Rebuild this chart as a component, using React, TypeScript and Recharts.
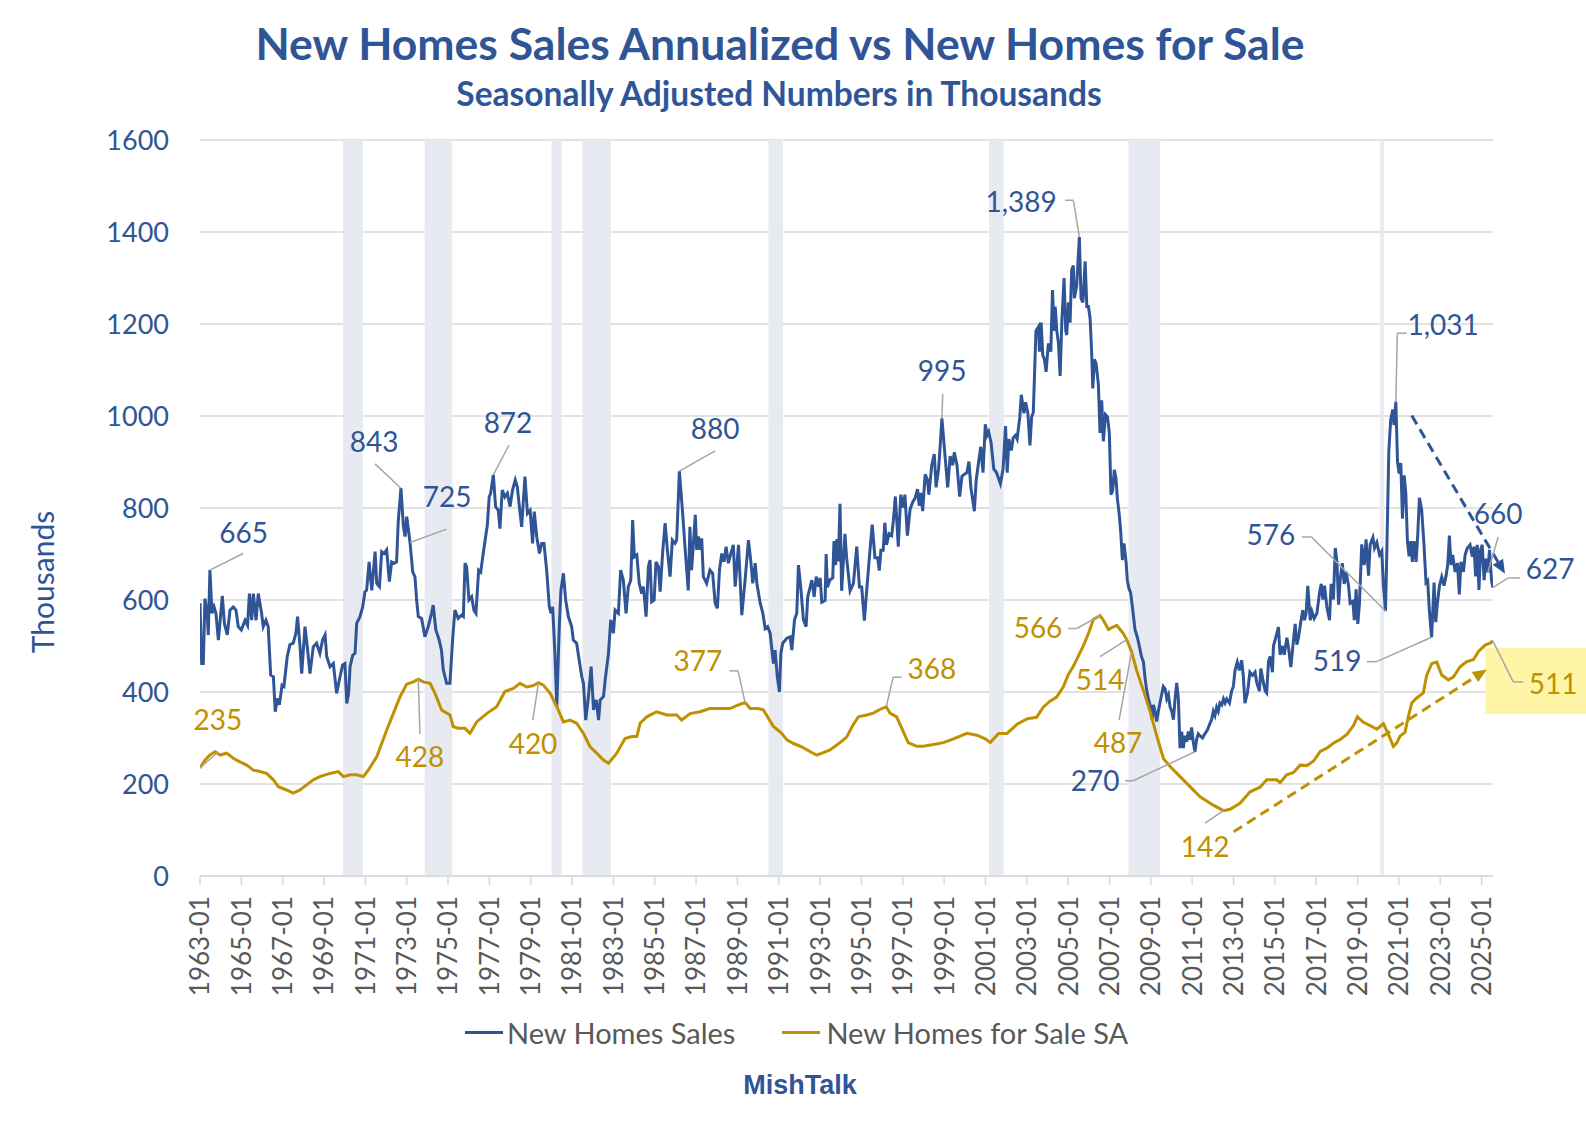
import React from 'react';
import {LineChart, Line, XAxis, YAxis, CartesianGrid, ReferenceArea, ReferenceLine, ReferenceDot} from 'recharts';

// Colores
const BLUE = '#2F5597';
const GOLD = '#BF9000';
const GRID = '#D9D9D9';
const BAND = '#E7EAF0';
const LEADER = '#A6A6A6';
const FONT = 'Lato, "Open Sans", sans-serif';

// Ventas de viviendas nuevas (anualizadas, miles) [año decimal, valor]
const SALES: [number, number][] = [
  [1963.0, 593], [1963.08, 462], [1963.16, 462], [1963.24, 603], [1963.35, 571], [1963.4, 524], [1963.48, 665],
  [1963.58, 571], [1963.68, 585], [1963.77, 571], [1963.89, 513], [1964.08, 609], [1964.18, 549], [1964.32, 524],
  [1964.45, 578], [1964.61, 585], [1964.74, 578], [1964.85, 542], [1965.0, 535], [1965.18, 556], [1965.3, 545],
  [1965.39, 614], [1965.5, 556], [1965.58, 614], [1965.71, 556], [1965.82, 614], [1965.98, 571], [1966.06, 542],
  [1966.19, 556], [1966.3, 542], [1966.42, 437], [1966.55, 433], [1966.64, 357], [1966.74, 386], [1966.84, 372],
  [1966.97, 415], [1967.06, 412], [1967.22, 477], [1967.35, 503], [1967.51, 506], [1967.64, 528], [1967.72, 564],
  [1967.84, 498], [1967.92, 440], [1968.08, 542], [1968.19, 498], [1968.32, 440], [1968.48, 498], [1968.64, 506],
  [1968.8, 484], [1968.93, 513], [1969.05, 524], [1969.13, 477], [1969.29, 455], [1969.45, 462], [1969.61, 397],
  [1969.74, 426], [1969.9, 459], [1970.01, 462], [1970.1, 375], [1970.19, 397], [1970.26, 455], [1970.39, 480],
  [1970.5, 484], [1970.58, 549], [1970.74, 564], [1970.87, 585], [1970.98, 618], [1971.06, 621], [1971.18, 683],
  [1971.31, 621], [1971.47, 705], [1971.55, 636], [1971.68, 629], [1971.79, 705], [1971.9, 701], [1972.03, 709],
  [1972.16, 640], [1972.27, 683], [1972.39, 680], [1972.51, 683], [1972.59, 770], [1972.72, 843], [1972.84, 760],
  [1972.92, 738], [1973.0, 781], [1973.16, 725], [1973.29, 661], [1973.4, 650], [1973.48, 600], [1973.56, 564],
  [1973.72, 560], [1973.88, 520], [1974.04, 542], [1974.2, 571], [1974.28, 589], [1974.41, 535], [1974.57, 513],
  [1974.68, 491], [1974.77, 448], [1974.93, 419], [1975.09, 419], [1975.22, 513], [1975.33, 578], [1975.49, 560],
  [1975.65, 567], [1975.74, 564], [1975.82, 680], [1975.9, 672], [1976.01, 600], [1976.14, 607], [1976.25, 578],
  [1976.35, 571], [1976.48, 665], [1976.58, 661], [1976.7, 701], [1976.9, 763], [1976.99, 824], [1977.06, 832],
  [1977.19, 872], [1977.3, 803], [1977.43, 795], [1977.51, 755], [1977.62, 839], [1977.75, 824], [1977.87, 832],
  [1978.0, 803], [1978.12, 839], [1978.25, 861], [1978.35, 846], [1978.45, 803], [1978.56, 759], [1978.72, 868],
  [1978.84, 788], [1978.97, 795], [1979.09, 723], [1979.17, 792], [1979.29, 738], [1979.42, 701], [1979.53, 723],
  [1979.64, 723], [1979.77, 665], [1979.9, 585], [1979.98, 571], [1980.06, 585], [1980.17, 484], [1980.26, 368],
  [1980.38, 542], [1980.46, 621], [1980.58, 658], [1980.69, 600], [1980.82, 564], [1980.98, 542], [1981.06, 513],
  [1981.22, 506], [1981.34, 470], [1981.47, 433], [1981.55, 419], [1981.66, 339], [1981.79, 390], [1981.92, 455],
  [1982.04, 361], [1982.17, 383], [1982.28, 339], [1982.36, 383], [1982.52, 390], [1982.6, 426], [1982.76, 484],
  [1982.87, 557], [1983.0, 528], [1983.08, 578], [1983.24, 571], [1983.35, 665], [1983.48, 643], [1983.61, 571],
  [1983.72, 629], [1983.84, 643], [1983.93, 774], [1984.01, 694], [1984.13, 698], [1984.25, 636], [1984.37, 614],
  [1984.45, 629], [1984.58, 564], [1984.69, 672], [1984.77, 687], [1984.85, 596], [1984.97, 600], [1985.06, 683],
  [1985.18, 672], [1985.26, 618], [1985.39, 709], [1985.5, 767], [1985.61, 709], [1985.74, 651], [1985.85, 730],
  [1985.98, 723], [1986.06, 730], [1986.19, 880], [1986.35, 788], [1986.46, 716], [1986.62, 621], [1986.7, 759],
  [1986.78, 665], [1986.86, 716], [1986.96, 785], [1987.03, 709], [1987.11, 738], [1987.19, 709], [1987.27, 734],
  [1987.35, 651], [1987.51, 636], [1987.67, 665], [1987.8, 658], [1987.92, 593], [1988.03, 582], [1988.13, 665],
  [1988.24, 701], [1988.35, 683], [1988.45, 716], [1988.56, 680], [1988.68, 701], [1988.8, 720], [1988.89, 629],
  [1989.05, 720], [1989.21, 567], [1989.37, 643], [1989.53, 730], [1989.65, 683], [1989.74, 636], [1989.86, 680],
  [1989.94, 636], [1990.1, 593], [1990.23, 571], [1990.34, 538], [1990.46, 542], [1990.58, 528], [1990.74, 462],
  [1990.82, 491], [1990.93, 433], [1991.03, 400], [1991.1, 484], [1991.19, 506], [1991.39, 517], [1991.55, 520],
  [1991.63, 491], [1991.76, 557], [1991.87, 571], [1991.95, 676], [1992.06, 629], [1992.19, 557], [1992.32, 542],
  [1992.4, 607], [1992.6, 643], [1992.71, 607], [1992.81, 651], [1992.92, 629], [1993.0, 648], [1993.08, 595],
  [1993.24, 599], [1993.29, 700], [1993.35, 628], [1993.48, 644], [1993.61, 648], [1993.67, 728], [1993.75, 676],
  [1993.8, 732], [1993.88, 684], [1993.96, 809], [1994.04, 620], [1994.2, 744], [1994.28, 692], [1994.45, 620],
  [1994.61, 636], [1994.77, 716], [1994.9, 628], [1995.01, 628], [1995.14, 555], [1995.25, 620], [1995.41, 708],
  [1995.52, 764], [1995.65, 692], [1995.78, 692], [1995.86, 664], [1995.94, 708], [1996.05, 708], [1996.13, 768],
  [1996.21, 720], [1996.33, 744], [1996.46, 740], [1996.54, 772], [1996.64, 825], [1996.78, 716], [1996.9, 829],
  [1997.02, 801], [1997.1, 829], [1997.22, 740], [1997.35, 797], [1997.48, 813], [1997.59, 821], [1997.71, 841],
  [1997.79, 805], [1997.87, 833], [1997.96, 793], [1998.08, 873], [1998.19, 861], [1998.26, 829], [1998.4, 893],
  [1998.52, 917], [1998.61, 845], [1998.73, 885], [1998.81, 937], [1998.89, 995], [1999.02, 925], [1999.17, 845],
  [1999.29, 913], [1999.41, 893], [1999.49, 921], [1999.62, 893], [1999.75, 825], [1999.86, 869], [1999.97, 873],
  [2000.1, 877], [2000.2, 901], [2000.29, 845], [2000.46, 793], [2000.55, 861], [2000.67, 901], [2000.77, 933],
  [2000.88, 877], [2000.99, 982], [2001.07, 958], [2001.15, 966], [2001.27, 942], [2001.4, 885], [2001.53, 877],
  [2001.72, 853], [2001.85, 885], [2001.97, 978], [2002.05, 877], [2002.13, 950], [2002.25, 925], [2002.34, 953],
  [2002.45, 958], [2002.53, 950], [2002.66, 998], [2002.73, 1046], [2002.86, 1006], [2002.94, 1030], [2003.05, 1006],
  [2003.15, 936], [2003.23, 998], [2003.31, 1007], [2003.44, 1185], [2003.56, 1194], [2003.61, 1140], [2003.69, 1203],
  [2003.77, 1132], [2003.85, 1123], [2003.93, 1096], [2004.04, 1158], [2004.16, 1140], [2004.24, 1274], [2004.32, 1185],
  [2004.37, 1238], [2004.45, 1185], [2004.53, 1158], [2004.61, 1087], [2004.69, 1203], [2004.8, 1300], [2004.88, 1185],
  [2004.93, 1176], [2005.01, 1247], [2005.09, 1203], [2005.17, 1318], [2005.25, 1327], [2005.3, 1256], [2005.41, 1283],
  [2005.54, 1389], [2005.62, 1256], [2005.71, 1247], [2005.82, 1336], [2005.9, 1238], [2005.98, 1238], [2006.06, 1212],
  [2006.14, 1132], [2006.19, 1060], [2006.27, 1123], [2006.35, 1114], [2006.46, 1069], [2006.54, 963], [2006.62, 1034],
  [2006.7, 945], [2006.8, 1003], [2006.9, 998], [2006.99, 963], [2007.07, 829], [2007.15, 838], [2007.23, 883],
  [2007.31, 865], [2007.38, 820], [2007.47, 785], [2007.54, 749], [2007.62, 687], [2007.7, 723], [2007.8, 683],
  [2007.86, 643], [2007.94, 625], [2008.02, 616], [2008.12, 580], [2008.23, 536], [2008.35, 518], [2008.44, 500],
  [2008.54, 478], [2008.64, 465], [2008.72, 429], [2008.8, 403], [2008.88, 385], [2008.99, 367], [2009.06, 340],
  [2009.12, 372], [2009.2, 358], [2009.28, 336], [2009.36, 358], [2009.44, 376], [2009.52, 394], [2009.6, 412],
  [2009.69, 407], [2009.77, 385], [2009.85, 394], [2009.93, 367], [2010.01, 358], [2010.09, 340], [2010.17, 385],
  [2010.25, 420], [2010.33, 385], [2010.41, 278], [2010.49, 314], [2010.57, 278], [2010.65, 305], [2010.73, 292],
  [2010.81, 314], [2010.89, 296], [2010.97, 323], [2011.05, 292], [2011.13, 270], [2011.21, 296], [2011.29, 309],
  [2011.37, 305], [2011.5, 300], [2011.61, 309], [2011.74, 318], [2011.86, 332], [2011.94, 340], [2012.02, 358],
  [2012.1, 349], [2012.18, 367], [2012.26, 358], [2012.34, 376], [2012.43, 372], [2012.51, 385], [2012.59, 376],
  [2012.67, 385], [2012.8, 376], [2012.91, 403], [2012.99, 412], [2013.07, 447], [2013.18, 465], [2013.28, 447],
  [2013.39, 469], [2013.47, 436], [2013.55, 376], [2013.67, 398], [2013.79, 443], [2013.92, 436], [2014.04, 443],
  [2014.12, 421], [2014.25, 402], [2014.32, 451], [2014.41, 428], [2014.53, 402], [2014.6, 398], [2014.69, 466],
  [2014.77, 477], [2014.88, 443], [2014.93, 500], [2015.04, 518], [2015.17, 541], [2015.25, 481], [2015.37, 500],
  [2015.45, 481], [2015.58, 518], [2015.66, 496], [2015.77, 454], [2015.9, 514], [2015.98, 548], [2016.06, 503],
  [2016.14, 518], [2016.25, 552], [2016.35, 578], [2016.43, 556], [2016.51, 571], [2016.59, 631], [2016.71, 556],
  [2016.79, 575], [2016.9, 560], [2017.03, 571], [2017.16, 616], [2017.24, 635], [2017.32, 601], [2017.4, 631],
  [2017.51, 586], [2017.64, 556], [2017.72, 635], [2017.83, 601], [2017.92, 713], [2018.0, 683], [2018.08, 590],
  [2018.16, 646], [2018.26, 680], [2018.35, 635], [2018.45, 661], [2018.56, 631], [2018.64, 593], [2018.77, 597],
  [2018.84, 556], [2018.93, 623], [2019.01, 548], [2019.09, 593], [2019.2, 721], [2019.32, 676], [2019.41, 732],
  [2019.53, 653], [2019.61, 721], [2019.74, 736], [2019.82, 713], [2019.93, 725], [2020.06, 698], [2020.17, 706],
  [2020.25, 631], [2020.35, 576], [2020.41, 698], [2020.51, 924], [2020.6, 991], [2020.7, 1014], [2020.76, 980],
  [2020.85, 1031], [2020.93, 901], [2021.01, 875], [2021.09, 898], [2021.17, 777], [2021.25, 871], [2021.33, 834],
  [2021.41, 728], [2021.49, 695], [2021.57, 728], [2021.65, 683], [2021.73, 728], [2021.83, 683], [2021.91, 743],
  [2021.99, 822], [2022.1, 796], [2022.21, 721], [2022.31, 638], [2022.39, 642], [2022.47, 578], [2022.58, 519],
  [2022.7, 638], [2022.78, 552], [2022.86, 593], [2022.96, 631], [2023.07, 650], [2023.18, 631], [2023.28, 653],
  [2023.36, 676], [2023.44, 740], [2023.52, 676], [2023.6, 698], [2023.72, 661], [2023.83, 680], [2023.92, 612],
  [2024.0, 683], [2024.12, 661], [2024.2, 698], [2024.31, 713], [2024.44, 720], [2024.55, 694], [2024.63, 716],
  [2024.71, 651], [2024.79, 720], [2024.87, 622], [2024.95, 709], [2025.03, 720], [2025.12, 643], [2025.2, 690],
  [2025.3, 660], [2025.38, 709], [2025.48, 643], [2025.54, 627],
];

// Viviendas nuevas en venta (desestacionalizado, miles)
const FOR_SALE: [number, number][] = [
  [1963.0, 235], [1963.24, 252], [1963.48, 263], [1963.73, 270], [1963.97, 263], [1964.29, 267], [1964.61, 256],
  [1964.93, 248], [1965.26, 241], [1965.58, 230], [1965.9, 227], [1966.22, 223], [1966.55, 209], [1966.79, 194],
  [1967.19, 187], [1967.51, 180], [1967.84, 187], [1968.16, 198], [1968.48, 209], [1968.8, 216], [1969.29, 223],
  [1969.69, 227], [1969.94, 216], [1970.26, 220], [1970.58, 220], [1970.9, 216], [1971.14, 230], [1971.55, 259],
  [1972.03, 317], [1972.35, 353], [1972.68, 390], [1973.0, 417], [1973.32, 422], [1973.56, 428], [1973.8, 422],
  [1974.13, 419], [1974.37, 397], [1974.69, 361], [1975.09, 350], [1975.25, 325], [1975.49, 321], [1975.82, 321],
  [1976.06, 310], [1976.38, 335], [1976.87, 353], [1977.35, 368], [1977.75, 401], [1978.16, 408], [1978.48, 419],
  [1978.8, 411], [1979.13, 414], [1979.37, 420], [1979.61, 415], [1979.94, 397], [1980.26, 368], [1980.58, 335],
  [1980.9, 339], [1981.22, 332], [1981.55, 310], [1981.87, 281], [1982.19, 267], [1982.52, 252], [1982.76, 245],
  [1983.16, 267], [1983.56, 299], [1983.89, 303], [1984.13, 303], [1984.29, 332], [1984.61, 346], [1985.09, 357],
  [1985.58, 350], [1986.06, 350], [1986.3, 339], [1986.71, 353], [1987.19, 357], [1987.67, 364], [1988.16, 364],
  [1988.64, 364], [1989.05, 372], [1989.37, 377], [1989.61, 364], [1990.01, 364], [1990.26, 361], [1990.74, 325],
  [1991.14, 310], [1991.39, 296], [1991.71, 288], [1992.11, 281], [1992.52, 270], [1992.84, 263], [1993.16, 268],
  [1993.48, 274], [1993.96, 290], [1994.28, 302], [1994.61, 330], [1994.85, 346], [1995.25, 350], [1995.57, 354],
  [1995.89, 362], [1996.2, 368], [1996.38, 354], [1996.7, 346], [1997.02, 314], [1997.26, 290], [1997.67, 282],
  [1997.99, 282], [1998.48, 286], [1998.96, 290], [1999.45, 298], [2000.1, 310], [2000.58, 306], [2000.99, 298],
  [2001.23, 290], [2001.63, 310], [2002.04, 310], [2002.53, 330], [2003.02, 342], [2003.47, 345], [2003.79, 367],
  [2004.12, 380], [2004.44, 389], [2004.77, 412], [2005.01, 438], [2005.25, 456], [2005.49, 478], [2005.73, 500],
  [2005.98, 527], [2006.22, 558], [2006.54, 566], [2006.7, 556], [2006.95, 536], [2007.11, 540], [2007.35, 545],
  [2007.67, 527], [2007.83, 514], [2008.07, 487], [2008.31, 447], [2008.64, 403], [2008.96, 358], [2009.28, 305],
  [2009.61, 255], [2009.93, 238], [2010.57, 209], [2011.38, 172], [2012.02, 154], [2012.51, 142], [2012.83, 145],
  [2013.31, 158], [2013.8, 183], [2014.28, 193], [2014.6, 209], [2015.09, 209], [2015.25, 203], [2015.57, 220],
  [2015.9, 225], [2016.22, 241], [2016.55, 240], [2016.87, 250], [2017.19, 271], [2017.51, 278], [2017.84, 289],
  [2018.16, 297], [2018.48, 308], [2018.8, 327], [2018.99, 346], [2019.28, 334], [2019.61, 327], [2019.93, 319],
  [2020.25, 331], [2020.49, 308], [2020.73, 282], [2020.89, 289], [2021.05, 304], [2021.29, 312], [2021.45, 346],
  [2021.62, 376], [2021.86, 387], [2022.18, 398], [2022.34, 436], [2022.59, 462], [2022.83, 465], [2023.07, 437],
  [2023.39, 426], [2023.64, 433], [2023.96, 455], [2024.28, 466], [2024.6, 470], [2024.85, 488], [2025.17, 502],
  [2025.41, 506], [2025.54, 511],
];

// Recesiones (inicio, fin)
const RECESSIONS: [number, number][] = [
  [1969.92, 1970.88], [1973.87, 1975.2], [1980.0, 1980.5], [1981.5, 1982.88],
  [1990.5, 1991.2], [2001.17, 2001.88], [2007.92, 2009.45], [2020.1, 2020.27],
];

const X_TICKS = [
  1963, 1965, 1967, 1969, 1971, 1973, 1975, 1977, 1979, 1981, 1983, 1985, 1987, 1989, 1991, 1993,
  1995, 1997, 1999, 2001, 2003, 2005, 2007, 2009, 2011, 2013, 2015, 2017, 2019, 2021, 2023, 2025,
];
const Y_TICKS = [0, 200, 400, 600, 800, 1000, 1200, 1400, 1600];

// Anotaciones: texto, posición del texto, línea guía hasta el punto
type Note = {text: string; at: [number, number]; path: [number, number][]};

const SALES_NOTES: Note[] = [
  {text: '665', at: [1965.11, 746], path: [[1965.09, 701], [1963.48, 665]]},
  {text: '843', at: [1971.42, 943], path: [[1971.47, 896], [1972.72, 843]]},
  {text: '725', at: [1974.95, 824], path: [[1974.93, 754], [1973.16, 725]]},
  {text: '872', at: [1977.9, 985], path: [[1977.95, 937], [1977.19, 872]]},
  {text: '880', at: [1987.92, 972], path: [[1987.92, 924], [1986.19, 880]]},
  {text: '995', at: [1998.9, 1098], path: [[1998.93, 1048], [1998.89, 995]]},
  {text: '1,389', at: [2002.72, 1465], path: [[2004.85, 1469], [2005.25, 1469], [2005.54, 1389]]},
  {text: '1,031', at: [2023.14, 1198], path: [[2021.38, 1180], [2020.92, 1180], [2020.85, 1031]]},
  {text: '576', at: [2014.81, 741], path: [[2016.3, 737], [2016.77, 737], [2020.35, 576]]},
  {text: '519', at: [2018.01, 467], path: [[2019.44, 466], [2019.92, 466], [2022.58, 519]]},
  {text: '660', at: [2025.8, 787], path: [[2025.8, 737], [2025.3, 660]]},
  {text: '627', at: [2028.31, 667], path: [[2026.86, 648], [2026.29, 648], [2025.54, 627]]},
  {text: '270', at: [2006.3, 207], path: [[2007.75, 207], [2008.14, 207], [2011.13, 270]]},
];

const FOR_SALE_NOTES: Note[] = [
  {text: '235', at: [1963.87, 339], path: [[1963.89, 270], [1963.0, 235]]},
  {text: '428', at: [1973.64, 259], path: [[1973.64, 309], [1973.56, 428]]},
  {text: '420', at: [1979.11, 287], path: [[1979.1, 339], [1979.37, 420]]},
  {text: '377', at: [1987.09, 467], path: [[1988.61, 446], [1989.03, 446], [1989.37, 377]]},
  {text: '368', at: [1998.41, 450], path: [[1996.95, 432], [1996.53, 432], [1996.2, 368]]},
  {text: '566', at: [2003.54, 539], path: [[2004.99, 538], [2005.41, 538], [2006.54, 566]]},
  {text: '514', at: [2006.54, 426], path: [[2006.54, 477], [2007.83, 514]]},
  {text: '487', at: [2007.41, 289], path: [[2007.46, 339], [2008.07, 487]]},
  {text: '142', at: [2011.62, 63], path: [[2011.62, 115], [2012.51, 142]]},
  {text: '511', at: [2028.46, 417], path: [[2027.01, 422], [2026.53, 422], [2025.54, 511]]},
];

// Flechas de tendencia
const SALES_TREND: [number, number][] = [[2021.62, 1001], [2026.13, 657]];
const FOR_SALE_TREND: [number, number][] = [[2013.0, 96], [2025.25, 449]];

const salesData = SALES.map(([t, v]) => ({t, v}));
const forSaleData = FOR_SALE.map(([t, v]) => ({t, v}));

const XTick = (props: any) => {
  const {x, y, payload} = props;
  return (
    <g transform={`translate(${x},${y})`}>
      <text transform='rotate(-90)' x={-9} dy='0.36em' textAnchor='end' fill='#595959' fontSize={26} fontFamily={FONT}>
        {`${payload.value}-01`}
      </text>
    </g>
  );
};

const arrowShape = (color: string) => (p: any) => {
  const {x1, y1, x2, y2} = p;
  const a = Math.atan2(y2 - y1, x2 - x1);
  const len = 14;
  const half = 6;
  const bx = x2 - len * Math.cos(a);
  const by = y2 - len * Math.sin(a);
  const pts = [
    [x2, y2],
    [bx + half * Math.sin(a), by - half * Math.cos(a)],
    [bx - half * Math.sin(a), by + half * Math.cos(a)],
  ];
  return (
    <g>
      <line x1={x1} y1={y1} x2={bx} y2={by} stroke={color} strokeWidth={3} strokeDasharray='10 6' />
      <polygon points={pts.map((q) => q.join(',')).join(' ')} fill={color} />
    </g>
  );
};

const noteText = (text: string, color: string) => (p: any) => (
  <text x={p.cx} y={p.cy} dy='0.36em' textAnchor='middle' fill={color} fontSize={28} fontFamily={FONT}>
    {text}
  </text>
);

const renderNotes = (notes: Note[], color: string, prefix: string) =>
  notes.flatMap((n, i) => {
    const segs = n.path.slice(1).map((pt, j) => (
      <ReferenceLine
        key={`${prefix}-seg-${i}-${j}`}
        segment={[{x: n.path[j][0], y: n.path[j][1]}, {x: pt[0], y: pt[1]}]}
        stroke={LEADER}
        strokeWidth={1.5}
        ifOverflow='visible'
      />
    ));
    return [
      ...segs,
      <ReferenceDot
        key={`${prefix}-txt-${i}`}
        x={n.at[0]}
        y={n.at[1]}
        r={1}
        ifOverflow='visible'
        shape={noteText(n.text, color)}
      />,
    ];
  });

export default function App() {
  return (
    <div style={{position: 'absolute', left: 0, top: 0, width: 1586, height: 1121, background: '#fff', fontFamily: FONT}}>
      <div style={{position: 'absolute', left: 0, width: 1560, top: 17, textAlign: 'center', fontSize: 44.5, fontWeight: 700, color: BLUE, lineHeight: '52px'}}>
        New Homes Sales Annualized vs New Homes for Sale
      </div>
      <div style={{position: 'absolute', left: 0, width: 1558, top: 74, textAlign: 'center', fontSize: 33.5, fontWeight: 700, color: BLUE, lineHeight: '38px'}}>
        Seasonally Adjusted Numbers in Thousands
      </div>
      <div
        style={{
          position: 'absolute',
          left: 42,
          top: 582,
          transform: 'translate(-50%, -50%) rotate(-90deg)',
          fontSize: 30,
          color: BLUE,
          whiteSpace: 'nowrap',
          lineHeight: 1,
        }}
      >
        Thousands
      </div>

      <div style={{position: 'absolute', left: 0, top: 0}}>
        <LineChart width={1586} height={1121} margin={{top: 140, right: 93, bottom: 115, left: 100}}>
          <CartesianGrid vertical={false} stroke={GRID} strokeWidth={1.5} />
          {RECESSIONS.map(([a, b], i) => (
            <ReferenceArea key={`rec-${i}`} x1={a} x2={b} y1={0} y2={1600} fill={BAND} fillOpacity={1} stroke='none' />
          ))}
          <XAxis
            type='number'
            dataKey='t'
            domain={[1963, 2025.55]}
            ticks={X_TICKS}
            interval={0}
            allowDataOverflow
            height={130}
            tick={<XTick />}
            tickSize={9}
            tickLine={{stroke: GRID, strokeWidth: 1.5}}
            axisLine={{stroke: GRID, strokeWidth: 1.5}}
          />
          <YAxis
            type='number'
            domain={[0, 1600]}
            ticks={Y_TICKS}
            interval={0}
            width={100}
            axisLine={false}
            tickLine={false}
            tickSize={6}
            tickMargin={25}
            tick={{fill: BLUE, fontSize: 27, fontFamily: FONT}}
          />
          <ReferenceArea x1={2025.17} x2={2030.06} y1={352} y2={496} fill='#FFF5A6' fillOpacity={1} stroke='none' ifOverflow='visible' />
          <Line data={salesData} dataKey='v' type='linear' stroke={BLUE} strokeWidth={3} dot={false} isAnimationActive={false} />
          <Line data={forSaleData} dataKey='v' type='linear' stroke={GOLD} strokeWidth={3} dot={false} isAnimationActive={false} />
          <ReferenceLine
            segment={[{x: SALES_TREND[0][0], y: SALES_TREND[0][1]}, {x: SALES_TREND[1][0], y: SALES_TREND[1][1]}]}
            ifOverflow='visible'
            shape={arrowShape(BLUE)}
          />
          <ReferenceLine
            segment={[{x: FOR_SALE_TREND[0][0], y: FOR_SALE_TREND[0][1]}, {x: FOR_SALE_TREND[1][0], y: FOR_SALE_TREND[1][1]}]}
            ifOverflow='visible'
            shape={arrowShape(GOLD)}
          />
          {renderNotes(SALES_NOTES, BLUE, 's')}
          {renderNotes(FOR_SALE_NOTES, GOLD, 'f')}
        </LineChart>
      </div>

      {/* Leyenda */}
      <div style={{position: 'absolute', top: 1013, left: 465, height: 38, display: 'flex', alignItems: 'center', fontSize: 29, color: '#595959'}}>
        <span style={{display: 'inline-block', width: 38, height: 3, background: BLUE, marginRight: 4}} />
        <span>New Homes Sales</span>
        <span style={{display: 'inline-block', width: 38, height: 3, background: GOLD, marginLeft: 47, marginRight: 6}} />
        <span>New Homes for Sale SA</span>
      </div>
      <div style={{position: 'absolute', left: 0, width: 1600, top: 1070, textAlign: 'center', fontSize: 27, fontWeight: 700, color: BLUE, fontFamily: '"Liberation Sans", Arial, sans-serif', lineHeight: '30px'}}>
        MishTalk
      </div>
    </div>
  );
}
